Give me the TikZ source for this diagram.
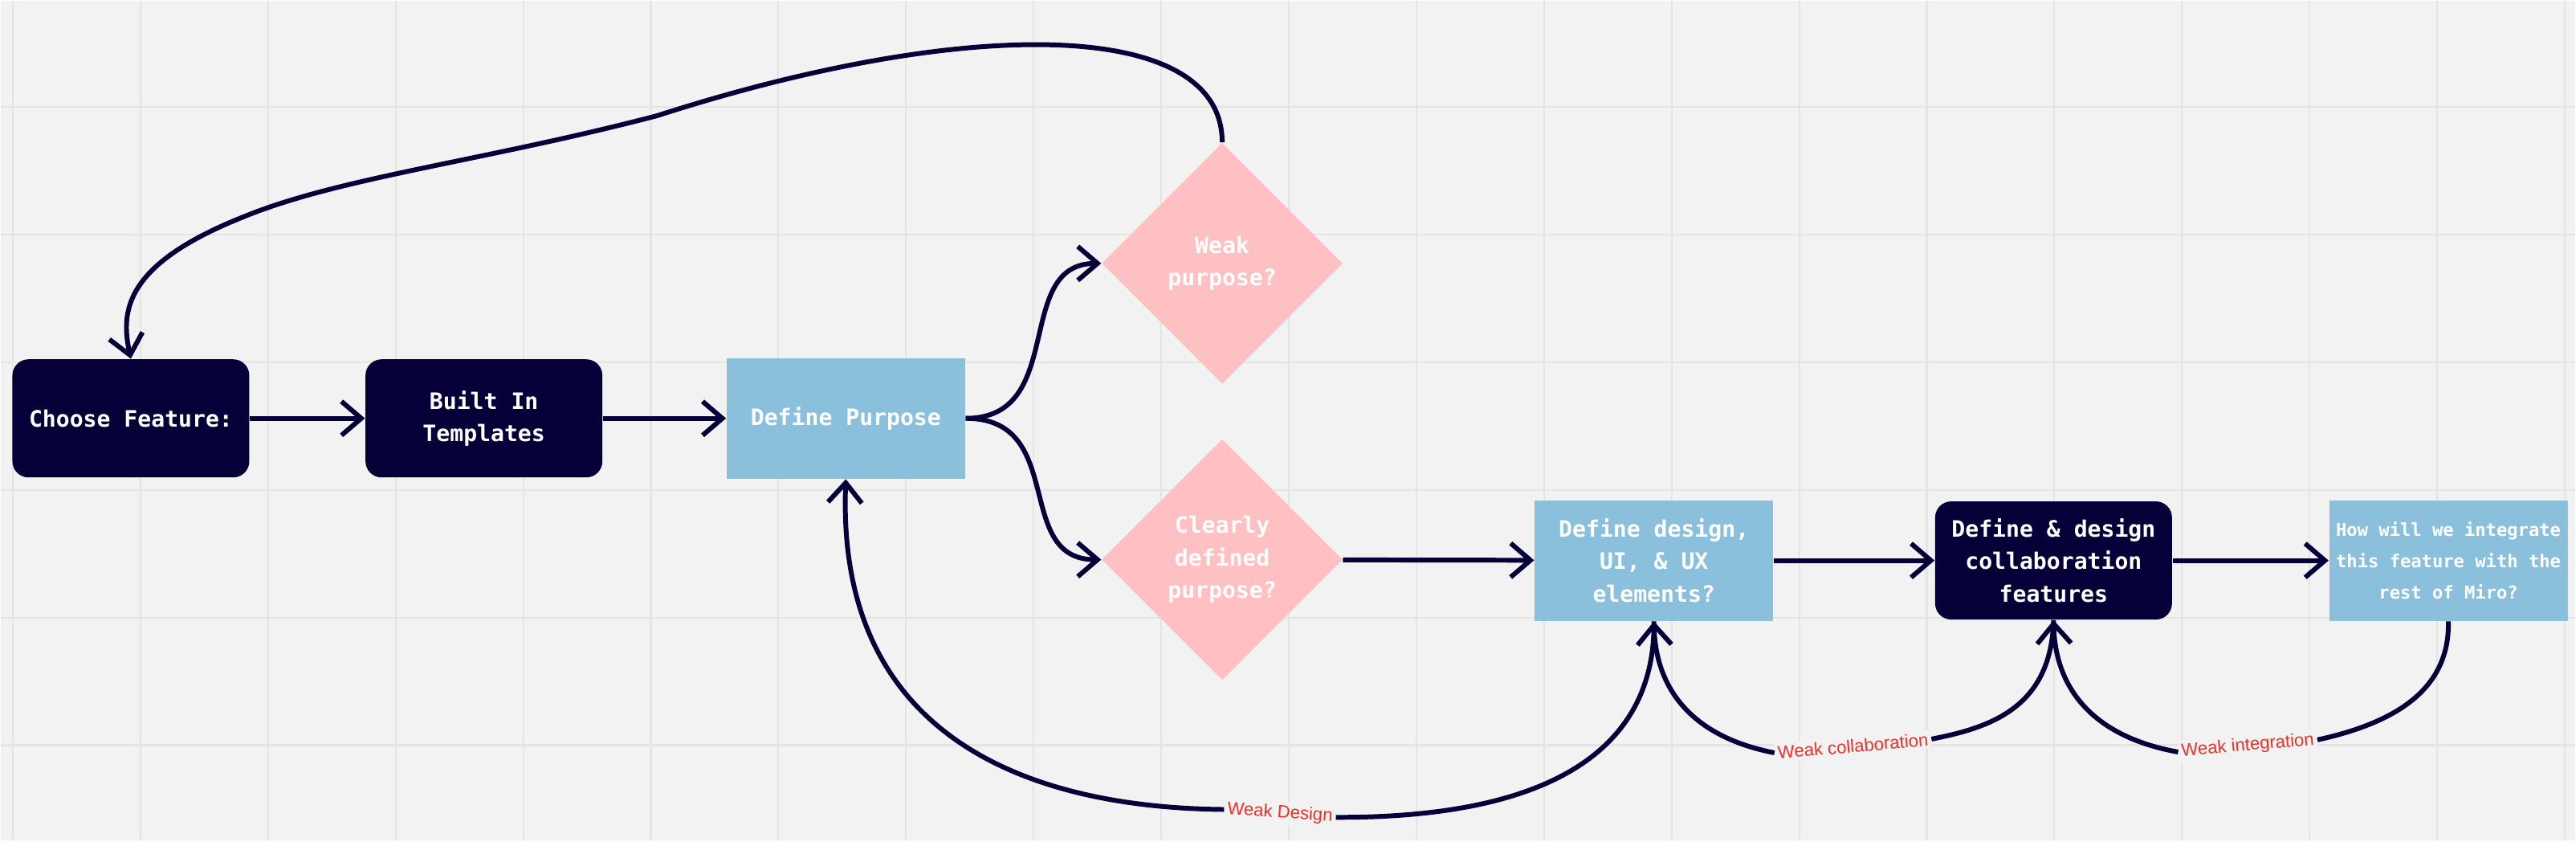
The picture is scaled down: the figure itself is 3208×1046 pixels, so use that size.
\documentclass[tikz,border=0pt]{standalone}
\usepackage{fontspec}
\setmainfont{Liberation Sans}
\newfontfamily\boxfont{DejaVu Sans Mono}
\usetikzlibrary{shapes.geometric,arrows.meta}
\definecolor{miroNavy}{HTML}{050038}
\definecolor{miroBlue}{HTML}{8BC0DC}
\definecolor{miroPink}{HTML}{FFC0C3}
\definecolor{miroRed}{HTML}{E8322B}
\definecolor{miroBg}{HTML}{F2F2F2}
\definecolor{miroGrid}{HTML}{E4E4E4}
\tikzset{
  dark/.style={fill=miroNavy,rounded corners=0.2cm,minimum width=2.95cm,minimum height=1.47cm,
    text=white,font=\boxfont\bfseries\fontsize{8}{11.5}\selectfont,align=center,inner sep=2pt},
  light/.style={fill=miroBlue,minimum width=2.97cm,minimum height=1.5cm,
    text=white,font=\boxfont\bfseries\fontsize{8}{11.5}\selectfont,align=center,inner sep=2pt},
  choice/.style={diamond,fill=miroPink,minimum size=3cm,inner sep=0pt,
    text=white,font=\boxfont\bfseries\fontsize{8}{11.5}\selectfont,align=center},
  arr/.style={draw=miroNavy,line width=1.7pt,-{Straight Barb[length=7pt,width=12pt,line width=1.7pt]}},
  weak/.style={fill=miroBg,text=miroRed,font=\fontsize{6.3}{7}\selectfont,inner sep=1pt}
}
\begin{document}
\begin{tikzpicture}[x=0.01cm,y=-0.01cm]

     %background and grid
     \fill[miroBg] (0,0) rectangle (3208,1046);
     \foreach \gx in {15,174,...,3208} \draw[miroGrid,line width=0.6pt] (\gx,0) -- (\gx,1046);
     \foreach \gy in {132,291,...,1046} \draw[miroGrid,line width=0.6pt] (0,\gy) -- (3208,\gy);
     \useasboundingbox (0,0) rectangle (3208,1046);

     %Boxes
     \node[dark]   (choose)  at (162,520)  {Choose Feature:};
     \node[dark]   (built)   at (602,520)  {Built In\\Templates};
     \node[light]  (purpose) at (1053,520) {Define Purpose};
     \node[choice] (weakp)   at (1522,327) {Weak\\purpose?};
     \node[choice] (clear)   at (1522,696) {Clearly\\defined\\purpose?};
     \node[light]  (design)  at (2060,697) {Define design,\\UI, \& UX\\elements?};
     \node[dark]   (collab)  at (2558,697) {Define \& design\\collaboration\\features};
     \node[light,font=\boxfont\bfseries\fontsize{6.3}{11}\selectfont] (miro) at (3050,697)
          {How will we integrate\\this feature with the\\rest of Miro?};

     %Main flow
     \draw[arr] (choose) -- (built);
     \draw[arr] (built) -- (purpose);
     \draw[arr] (purpose.east) .. controls (1330,520) and (1260,327) .. (weakp.west);
     \draw[arr] (purpose.east) .. controls (1330,520) and (1260,696) .. (clear.west);
     \draw[arr] (clear) -- (design);
     \draw[arr] (design) -- (collab);
     \draw[arr] (collab) -- (miro);

     %Loop back
     \draw[arr] (weakp.north) .. controls (1522,20) and (1200,20) .. (818,143)
          .. controls (600,200) and (420,220) .. (300,270)
          .. controls (150,330) and (150,390) .. (choose.north);

     %Weak branches
     \node[weak,rotate=-4] (wdesign) at (1594,1012) {Weak Design};
     \draw[draw=miroNavy,line width=1.7pt] (design.south) .. controls (2062,920) and (1950,1018) .. (wdesign.east);
     \draw[arr] (wdesign.west) .. controls (1300,1005) and (1040,930) .. (purpose.south);
     \node[weak,rotate=5] (wcollab) at (2308,928) {Weak collaboration};
     \draw[draw=miroNavy,line width=1.7pt] (collab.south) .. controls (2555,880) and (2480,905) .. (wcollab.east);
     \draw[arr] (wcollab.west) .. controls (2100,915) and (2062,850) .. (design.south);
     \node[weak,rotate=5] (wint) at (2800,928) {Weak integration};
     \draw[draw=miroNavy,line width=1.7pt] (miro.south) .. controls (3052,860) and (2980,900) .. (wint.east);
     \draw[arr] (wint.west) .. controls (2600,915) and (2560,850) .. (collab.south);

    \end{tikzpicture}
\end{document}
